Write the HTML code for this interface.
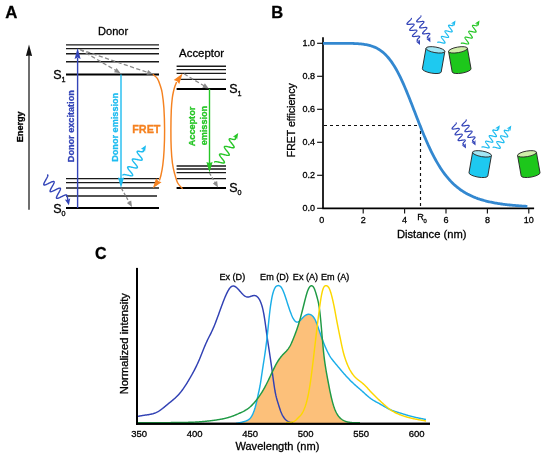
<!DOCTYPE html>
<html><head><meta charset="utf-8"><title>FRET</title>
<style>
html,body{margin:0;padding:0;background:#fff;}
svg{display:block;font-family:"Liberation Sans",Arial,Helvetica,sans-serif;}
text{stroke:#000;stroke-width:0.3px;}
</style></head>
<body>
<svg width="550" height="458" viewBox="0 0 550 458">
<rect width="550" height="458" fill="#fff"/>
<text x="5.2" y="18.3" font-size="16.8" font-weight="bold" stroke="#000" stroke-width="0.35">A</text>
<line x1="29" y1="209.8" x2="29" y2="55" stroke="#4a4a4a" stroke-width="1.6"/>
<path d="M29,44.6 L32.1,56.1 L29,55.6 L25.9,56.1 Z" fill="#111"/>
<text transform="translate(23.3,126.8) rotate(-90)" text-anchor="middle" font-size="9.4" font-weight="bold" textLength="31" lengthAdjust="spacingAndGlyphs">Energy</text>
<text x="98" y="35.1" font-size="11.2" textLength="30.2" lengthAdjust="spacingAndGlyphs">Donor</text>
<text x="179.1" y="56.5" font-size="11.2" textLength="45" lengthAdjust="spacingAndGlyphs">Acceptor</text>
<line x1="66" y1="44.9" x2="159" y2="44.9" stroke="#1a1a1a" stroke-width="1.4"/>
<line x1="66" y1="48.6" x2="159" y2="48.6" stroke="#1a1a1a" stroke-width="1.4"/>
<line x1="66" y1="53.7" x2="159" y2="53.7" stroke="#1a1a1a" stroke-width="1.4"/>
<line x1="66" y1="61.7" x2="159" y2="61.7" stroke="#1a1a1a" stroke-width="1.4"/>
<line x1="66" y1="74.4" x2="159" y2="74.4" stroke="#000" stroke-width="2"/>
<line x1="66" y1="178.6" x2="159" y2="178.6" stroke="#1a1a1a" stroke-width="1.4"/>
<line x1="66" y1="182.6" x2="159" y2="182.6" stroke="#1a1a1a" stroke-width="1.4"/>
<line x1="66" y1="188" x2="159" y2="188" stroke="#1a1a1a" stroke-width="1.4"/>
<line x1="66" y1="196" x2="157" y2="196" stroke="#1a1a1a" stroke-width="1.4"/>
<line x1="66" y1="208" x2="159" y2="208" stroke="#000" stroke-width="2"/>
<line x1="176.6" y1="66.3" x2="226" y2="66.3" stroke="#1a1a1a" stroke-width="1.4"/>
<line x1="176.6" y1="69.6" x2="226" y2="69.6" stroke="#1a1a1a" stroke-width="1.4"/>
<line x1="176.6" y1="73.4" x2="226" y2="73.4" stroke="#1a1a1a" stroke-width="1.4"/>
<line x1="180.4" y1="79.4" x2="226" y2="79.4" stroke="#1a1a1a" stroke-width="1.4"/>
<line x1="176.6" y1="88.9" x2="226" y2="88.9" stroke="#000" stroke-width="2"/>
<line x1="176.6" y1="166" x2="226" y2="166" stroke="#1a1a1a" stroke-width="1.4"/>
<line x1="176.6" y1="169" x2="226" y2="169" stroke="#1a1a1a" stroke-width="1.4"/>
<line x1="176.6" y1="172.6" x2="226" y2="172.6" stroke="#1a1a1a" stroke-width="1.4"/>
<line x1="176.6" y1="178.6" x2="226" y2="178.6" stroke="#1a1a1a" stroke-width="1.4"/>
<line x1="176.6" y1="188" x2="226" y2="188" stroke="#000" stroke-width="2"/>
<text x="53.3" y="78.5" font-size="12.5">S</text><text x="61.599999999999994" y="81.9" font-size="7.2">1</text>
<text x="53.3" y="212.9" font-size="12.5">S</text><text x="61.599999999999994" y="216.3" font-size="7.2">0</text>
<text x="229.3" y="92.7" font-size="12.5">S</text><text x="237.60000000000002" y="96.10000000000001" font-size="7.2">1</text>
<text x="229.3" y="191.7" font-size="12.5">S</text><text x="237.60000000000002" y="195.1" font-size="7.2">0</text>
<line x1="80" y1="49.5" x2="116.18" y2="70.67" stroke="#8a8a8a" stroke-width="1.3" stroke-dasharray="4.2,2.4"/><path d="M120.5,73.2 L114.06,72.33 L115.32,70.17 L116.58,68.01 Z" fill="#8a8a8a"/>
<line x1="80" y1="49.5" x2="148.26" y2="72.6" stroke="#8a8a8a" stroke-width="1.3" stroke-dasharray="4.2,2.4"/><path d="M153,74.2 L146.52,74.65 L147.32,72.28 L148.12,69.91 Z" fill="#8a8a8a"/>
<line x1="121.5" y1="188.5" x2="129.53" y2="202.65" stroke="#8a8a8a" stroke-width="1.3" stroke-dasharray="3,2"/><path d="M132,207 L126.86,203.02 L129.04,201.78 L131.21,200.55 Z" fill="#8a8a8a"/>
<line x1="184" y1="73.8" x2="204.41" y2="86.03" stroke="#8a8a8a" stroke-width="1.3" stroke-dasharray="4.2,2.4"/><path d="M208.7,88.6 L202.27,87.66 L203.55,85.52 L204.84,83.37 Z" fill="#8a8a8a"/>
<line x1="209.5" y1="173" x2="215.47" y2="183.19" stroke="#8a8a8a" stroke-width="1.3" stroke-dasharray="3,2"/><path d="M218,187.5 L212.81,183.59 L214.97,182.32 L217.12,181.06 Z" fill="#8a8a8a"/>
<line x1="77.6" y1="208" x2="77.6" y2="58" stroke="#3344b8" stroke-width="1.4"/><path d="M77.6,48 L80.6,59 L77.6,57.5 L74.6,59 Z" fill="#3344b8"/>
<text transform="translate(74.2,126.2) rotate(-90)" text-anchor="middle" font-size="9.2" textLength="72" lengthAdjust="spacingAndGlyphs" font-weight="bold" style="fill:#3344b8;stroke:#3344b8">Donor excitation</text>
<line x1="121" y1="74.4" x2="121" y2="178.5" stroke="#1ebcf0" stroke-width="1.4"/><path d="M121,188 L118,177.5 L121,178.3 L124,177.5 Z" fill="#1ebcf0"/>
<text transform="translate(118.2,127.3) rotate(-90)" text-anchor="middle" font-size="9.1" textLength="69" lengthAdjust="spacingAndGlyphs" font-weight="bold" style="fill:#1ebcf0;stroke:#1ebcf0">Donor emission</text>
<line x1="209.5" y1="88.9" x2="209.5" y2="163.1" stroke="#26c626" stroke-width="1.4"/><path d="M209.5,172.6 L206.4,162.1 L209.5,162.9 L212.6,162.1 Z" fill="#26c626"/>
<text transform="translate(194.8,126.5) rotate(-90)" text-anchor="middle" font-size="9.2" textLength="39.5" lengthAdjust="spacingAndGlyphs" font-weight="bold" style="fill:#26c626;stroke:#26c626">Acceptor</text>
<text transform="translate(206.6,125.6) rotate(-90)" text-anchor="middle" font-size="9.2" textLength="39.5" lengthAdjust="spacingAndGlyphs" font-weight="bold" style="fill:#26c626;stroke:#26c626">emission</text>
<text x="132.2" y="133.3" font-size="11.3" font-weight="bold" textLength="28.3" lengthAdjust="spacingAndGlyphs" style="fill:#f58220;stroke:#f58220">FRET</text>
<path d="M152.8,74.3 C153.55,74.98 156.05,76.5 157.3,78.4 C158.55,80.3 159.48,83.27 160.3,85.7 C161.12,88.13 161.6,89.28 162.2,93 C162.8,96.72 163.5,101.83 163.9,108 C164.3,114.17 164.57,123 164.6,130 C164.63,137 164.4,144.17 164.1,150 C163.8,155.83 163.32,160.83 162.8,165 C162.28,169.17 161.57,172.42 161,175 C160.43,177.58 159.67,179.58 159.4,180.5" fill="none" stroke="#f58220" stroke-width="1.45"/>
<path d="M152.8,188.3 L156.1,178.27 L158.21,181.11 L161.53,182.36 Z" fill="#f58220"/>
<path d="M182.6,188.7 C181.78,187.75 179.05,185.58 177.7,183 C176.35,180.42 175.38,176.53 174.5,173.2 C173.62,169.87 172.95,167.2 172.4,163 C171.85,158.8 171.45,153.5 171.2,148 C170.95,142.5 170.88,136.33 170.9,130 C170.92,123.67 171.07,115.33 171.3,110 C171.53,104.67 171.92,101.17 172.3,98 C172.68,94.83 173.15,93 173.6,91 C174.05,89 174.5,87.5 175,86 C175.5,84.5 176.33,82.67 176.6,82" fill="none" stroke="#f58220" stroke-width="1.45"/>
<path d="M182.6,73.5 L179.24,84.01 L177.06,81.22 L173.72,80.05 Z" fill="#f58220"/>
<path d="M47.7,174.9 L47.82,175.11 L47.85,175.4 L47.79,175.76 L47.67,176.2 L47.47,176.7 L47.21,177.26 L46.9,177.87 L46.56,178.52 L46.18,179.19 L45.8,179.87 L45.41,180.56 L45.03,181.23 L44.69,181.87 L44.38,182.48 L44.12,183.04 L43.92,183.54 L43.8,183.98 L43.74,184.35 L43.77,184.64 L43.89,184.84 L44.09,184.97 L44.38,185.02 L44.75,184.99 L45.19,184.88 L45.7,184.72 L46.28,184.49 L46.9,184.22 L47.57,183.91 L48.26,183.57 L48.96,183.22 L49.67,182.87 L50.36,182.54 L51.02,182.23 L51.65,181.95 L52.22,181.73 L52.73,181.56 L53.18,181.46 L53.55,181.43 L53.83,181.47 L54.03,181.6 L54.15,181.81 L54.18,182.1 L54.13,182.46 L54,182.9 L53.8,183.4 L53.55,183.96 L53.24,184.57 L52.89,185.22 L52.52,185.89 L52.13,186.57 L51.74,187.26 L51.37,187.93 L51.02,188.57 L50.71,189.18 L50.45,189.74 L50.26,190.24 L50.13,190.68 L50.08,191.05 L50.11,191.34 L50.22,191.54 L50.42,191.67 L50.71,191.72 L51.08,191.69 L51.52,191.58 L52.04,191.42 L52.61,191.19 L53.24,190.92 L53.9,190.61 L54.59,190.27 L55.3,189.92 L56,189.57 L56.69,189.24 L57.35,188.93 L57.98,188.65 L58.55,188.43 L59.07,188.26 L59.51,188.16 L59.88,188.13 L60.17,188.17 L60.37,188.3 L60.48,188.51 L60.51,188.8 L60.46,189.16 L60.33,189.6 L60.14,190.1 L59.88,190.66 L59.57,191.27 L59.22,191.92 L58.85,192.59 L58.46,193.27 L58.07,193.96 L57.7,194.63 L57.35,195.27 L57.04,195.88 L56.79,196.44 L56.59,196.94 L56.46,197.38 L56.41,197.75 L56.44,198.04 L56.56,198.24 L56.76,198.37 L57.04,198.42 L57.41,198.39 L57.86,198.28 L58.37,198.12 L58.94,197.89 L59.57,197.62 L60.23,197.31 L60.92,196.97 L61.63,196.62 L62.33,196.27 L63.02,195.94 L63.69,195.63 L64.31,195.35 L64.89,195.13 L65.4,194.96 L65.84,194.86 L66.21,194.83 L66.5,194.87 L66.7,195 Q67.78,198.03 67.74,199.82" fill="none" stroke="#3344b8" stroke-width="1.4" stroke-linejoin="round" stroke-linecap="round"/><path d="M68.9,205.2 L64.84,199.43 L67.78,200.02 L70.22,198.27 Z" fill="#3344b8"/>
<path d="M122.92,174.91 L123.12,174.72 L123.44,174.6 L123.88,174.55 L124.42,174.57 L125.05,174.64 L125.76,174.76 L126.52,174.91 L127.32,175.09 L128.13,175.27 L128.93,175.44 L129.7,175.6 L130.41,175.72 L131.06,175.8 L131.61,175.83 L132.06,175.79 L132.4,175.68 L132.62,175.5 L132.71,175.25 L132.69,174.92 L132.54,174.52 L132.29,174.06 L131.95,173.54 L131.53,172.97 L131.05,172.37 L130.53,171.74 L130,171.1 L129.47,170.47 L128.97,169.86 L128.52,169.27 L128.15,168.73 L127.85,168.24 L127.66,167.81 L127.59,167.46 L127.63,167.17 L127.79,166.96 L128.08,166.82 L128.48,166.75 L129,166.75 L129.6,166.81 L130.29,166.92 L131.04,167.06 L131.83,167.23 L132.64,167.41 L133.45,167.59 L134.23,167.75 L134.96,167.88 L135.63,167.98 L136.21,168.02 L136.69,168 L137.06,167.91 L137.31,167.75 L137.44,167.52 L137.45,167.21 L137.34,166.83 L137.12,166.39 L136.8,165.88 L136.4,165.33 L135.94,164.73 L135.43,164.11 L134.89,163.48 L134.36,162.84 L133.85,162.22 L133.39,161.63 L132.99,161.07 L132.67,160.57 L132.45,160.12 L132.34,159.74 L132.35,159.44 L132.48,159.2 L132.73,159.04 L133.1,158.96 L133.58,158.94 L134.16,158.98 L134.83,159.07 L135.56,159.21 L136.34,159.37 L137.15,159.55 L137.96,159.73 L138.75,159.9 L139.5,160.04 L140.19,160.15 L140.79,160.2 L141.31,160.2 L141.71,160.14 L142,160 L142.16,159.79 L142.2,159.5 L142.13,159.14 L141.94,158.71 L141.64,158.23 L141.27,157.68 L140.82,157.1 L140.32,156.48 L139.79,155.85 L139.26,155.22 L138.74,154.59 L138.26,153.99 L137.84,153.42 L137.5,152.9 L137.25,152.44 L137.1,152.04 L137.08,151.71 L137.17,151.45 L137.39,151.27 L137.73,151.17 L138.26,151.18 L138.99,151.31 L139.74,151.45 L140.47,151.59 L141.15,151.69 L141.77,151.75 L142.3,151.77 L142.73,151.72 L143.06,151.6 L143.28,151.43 L143.4,151.19 L143.43,150.89 L143.4,150.56 L143.31,150.2 L143.2,149.81" fill="none" stroke="#1ebcf0" stroke-width="1.4" stroke-linejoin="round" stroke-linecap="round"/><path d="M146,145.2 L145.02,151.63 L143.51,149.3 L140.75,149.03 Z" fill="#1ebcf0"/>
<path d="M214.71,161.91 L214.91,161.72 L215.23,161.61 L215.67,161.58 L216.2,161.61 L216.83,161.7 L217.54,161.83 L218.29,162 L219.09,162.2 L219.89,162.4 L220.69,162.59 L221.45,162.76 L222.16,162.91 L222.8,163 L223.36,163.04 L223.81,163.02 L224.15,162.92 L224.36,162.75 L224.46,162.5 L224.44,162.17 L224.3,161.77 L224.06,161.3 L223.73,160.78 L223.32,160.21 L222.85,159.6 L222.34,158.96 L221.82,158.32 L221.31,157.68 L220.82,157.06 L220.38,156.46 L220.01,155.92 L219.73,155.43 L219.54,155 L219.47,154.64 L219.52,154.36 L219.69,154.15 L219.97,154.02 L220.38,153.97 L220.89,153.98 L221.49,154.05 L222.18,154.17 L222.92,154.34 L223.71,154.52 L224.51,154.72 L225.31,154.92 L226.09,155.1 L226.81,155.25 L227.48,155.36 L228.06,155.42 L228.54,155.41 L228.91,155.34 L229.16,155.19 L229.29,154.96 L229.31,154.65 L229.2,154.28 L228.99,153.83 L228.68,153.32 L228.29,152.76 L227.84,152.16 L227.34,151.53 L226.82,150.89 L226.3,150.24 L225.8,149.61 L225.35,149.01 L224.96,148.45 L224.65,147.94 L224.43,147.5 L224.33,147.12 L224.34,146.81 L224.47,146.58 L224.73,146.43 L225.1,146.36 L225.58,146.35 L226.16,146.41 L226.82,146.52 L227.55,146.67 L228.33,146.85 L229.13,147.05 L229.93,147.25 L230.71,147.43 L231.46,147.6 L232.14,147.72 L232.75,147.79 L233.26,147.8 L233.66,147.75 L233.95,147.62 L234.12,147.41 L234.16,147.13 L234.09,146.77 L233.91,146.35 L233.62,145.85 L233.26,145.31 L232.82,144.72 L232.33,144.09 L231.81,143.45 L231.29,142.81 L230.79,142.17 L230.32,141.56 L229.91,140.99 L229.57,140.47 L229.33,140 L229.19,139.6 L229.17,139.27 L229.27,139.02 L229.49,138.85 L229.83,138.76 L230.36,138.78 L231.09,138.93 L231.83,139.09 L232.55,139.24 L233.23,139.36 L233.85,139.44 L234.38,139.47 L234.81,139.43 L235.14,139.33 L235.36,139.15 L235.48,138.92 L235.52,138.63 L235.49,138.3 L235.41,137.94 L235.3,137.56" fill="none" stroke="#26c626" stroke-width="1.4" stroke-linejoin="round" stroke-linecap="round"/><path d="M238.2,133 L237.09,139.4 L235.62,137.05 L232.87,136.72 Z" fill="#26c626"/>
<text x="271.2" y="18.1" font-size="16.5" font-weight="bold" stroke="#000" stroke-width="0.3">B</text>
<line x1="323.0" y1="37.2" x2="323.0" y2="209.10000000000002" stroke="#000" stroke-width="1.7"/>
<line x1="322.2" y1="208.3" x2="534.1" y2="208.3" stroke="#000" stroke-width="1.7"/>
<line x1="317.1" y1="208.3" x2="323.0" y2="208.3" stroke="#111" stroke-width="1.15"/>
<text x="315" y="211.25" font-size="9" text-anchor="end">0.0</text>
<line x1="317.1" y1="175.3" x2="323.0" y2="175.3" stroke="#111" stroke-width="1.15"/>
<text x="315" y="178.25" font-size="9" text-anchor="end">0.2</text>
<line x1="317.1" y1="142.3" x2="323.0" y2="142.3" stroke="#111" stroke-width="1.15"/>
<text x="315" y="145.25" font-size="9" text-anchor="end">0.4</text>
<line x1="317.1" y1="109.3" x2="323.0" y2="109.3" stroke="#111" stroke-width="1.15"/>
<text x="315" y="112.25" font-size="9" text-anchor="end">0.6</text>
<line x1="317.1" y1="76.3" x2="323.0" y2="76.3" stroke="#111" stroke-width="1.15"/>
<text x="315" y="79.25" font-size="9" text-anchor="end">0.8</text>
<line x1="317.1" y1="43.3" x2="323.0" y2="43.3" stroke="#111" stroke-width="1.15"/>
<text x="315" y="46.25" font-size="9" text-anchor="end">1.0</text>
<text x="321.8" y="223.2" font-size="9" text-anchor="middle">0</text>
<line x1="363.2" y1="208.3" x2="363.2" y2="213.5" stroke="#111" stroke-width="1.15"/>
<text x="363.2" y="223.2" font-size="9" text-anchor="middle">2</text>
<line x1="404.6" y1="208.3" x2="404.6" y2="213.5" stroke="#111" stroke-width="1.15"/>
<text x="404.6" y="223.2" font-size="9" text-anchor="middle">4</text>
<line x1="446" y1="208.3" x2="446" y2="213.5" stroke="#111" stroke-width="1.15"/>
<text x="446" y="223.2" font-size="9" text-anchor="middle">6</text>
<line x1="487.4" y1="208.3" x2="487.4" y2="213.5" stroke="#111" stroke-width="1.15"/>
<text x="487.4" y="223.2" font-size="9" text-anchor="middle">8</text>
<line x1="528.8" y1="208.3" x2="528.8" y2="213.5" stroke="#111" stroke-width="1.15"/>
<text x="528.8" y="223.2" font-size="9" text-anchor="middle">10</text>
<text x="417.3" y="219.8" font-size="9.2">R</text><text x="423.5" y="223" font-size="5.8">0</text>
<text x="396.9" y="238.2" font-size="11.2" textLength="69.6" lengthAdjust="spacingAndGlyphs">Distance (nm)</text>
<text transform="translate(295.3,120.3) rotate(-90)" text-anchor="middle" font-size="10.5" textLength="74" lengthAdjust="spacingAndGlyphs">FRET efficiency</text>
<path d="M324.0,125.5 H420.5 V208.3" fill="none" stroke="#111" stroke-width="1.15" stroke-dasharray="3,3"/>
<polyline points="323.0,43.3 323.87,43.3 324.9,43.3 325.93,43.3 326.96,43.3 328,43.3 329.03,43.3 330.06,43.3 331.1,43.3 332.13,43.3 333.16,43.3 334.2,43.3 335.23,43.3 336.26,43.3 337.29,43.3 338.33,43.3 339.36,43.31 340.39,43.31 341.43,43.31 342.46,43.31 343.49,43.32 344.52,43.33 345.56,43.33 346.59,43.34 347.62,43.35 348.66,43.37 349.69,43.39 350.72,43.41 351.75,43.43 352.79,43.46 353.82,43.5 354.85,43.54 355.89,43.59 356.92,43.64 357.95,43.71 358.99,43.78 360.02,43.87 361.05,43.97 362.08,44.08 363.12,44.2 364.15,44.35 365.18,44.51 366.22,44.69 367.25,44.89 368.28,45.12 369.31,45.37 370.35,45.66 371.38,45.97 372.41,46.31 373.45,46.69 374.48,47.11 375.51,47.57 376.54,48.07 377.58,48.62 378.61,49.22 379.64,49.87 380.68,50.57 381.71,51.33 382.74,52.15 383.78,53.04 384.81,53.99 385.84,55 386.87,56.09 387.91,57.25 388.94,58.49 389.97,59.8 391.01,61.19 392.04,62.65 393.07,64.2 394.1,65.83 395.14,67.54 396.17,69.32 397.2,71.19 398.24,73.13 399.27,75.15 400.3,77.24 401.33,79.41 402.37,81.64 403.4,83.93 404.43,86.29 405.47,88.7 406.5,91.16 407.53,93.67 408.57,96.22 409.6,98.8 410.63,101.42 411.66,104.06 412.7,106.71 413.73,109.38 414.76,112.05 415.8,114.72 416.83,117.39 417.86,120.05 418.89,122.68 419.93,125.3 420.96,127.89 421.99,130.45 423.03,132.98 424.06,135.47 425.09,137.91 426.12,140.31 427.16,142.66 428.19,144.96 429.22,147.2 430.26,149.4 431.29,151.53 432.32,153.61 433.36,155.63 434.39,157.59 435.42,159.5 436.45,161.34 437.49,163.13 438.52,164.86 439.55,166.53 440.59,168.14 441.62,169.7 442.65,171.2 443.68,172.65 444.72,174.04 445.75,175.39 446.78,176.68 447.82,177.92 448.85,179.12 449.88,180.27 450.91,181.37 451.95,182.43 452.98,183.45 454.01,184.43 455.05,185.36 456.08,186.26 457.11,187.13 458.15,187.95 459.18,188.75 460.21,189.51 461.24,190.24 462.28,190.94 463.31,191.61 464.34,192.25 465.38,192.87 466.41,193.46 467.44,194.03 468.47,194.57 469.51,195.09 470.54,195.59 471.57,196.07 472.61,196.53 473.64,196.97 474.67,197.39 475.71,197.8 476.74,198.18 477.77,198.56 478.8,198.91 479.84,199.25 480.87,199.58 481.9,199.9 482.94,200.2 483.97,200.49 485,200.77 486.03,201.04 487.07,201.29 488.1,201.54 489.13,201.78 490.17,202 491.2,202.22 492.23,202.43 493.26,202.63 494.3,202.83 495.33,203.01 496.36,203.19 497.4,203.37 498.43,203.53 499.46,203.69 500.5,203.84 501.53,203.99 502.56,204.13 503.59,204.27 504.63,204.4 505.66,204.53 506.69,204.65 507.73,204.77 508.76,204.88 509.79,204.99 510.82,205.09 511.86,205.2 512.89,205.29 513.92,205.39 514.96,205.48 515.99,205.57 517.02,205.65 518.05,205.73 519.09,205.81 520.12,205.89 521.15,205.96 522.19,206.03 523.22,206.1 524.25,206.16 525.29,206.23 526.32,206.29 527.35,206.35" fill="none" stroke="#3388d0" stroke-width="2.8" stroke-linecap="butt"/>
<g transform="translate(433.6,60.1) rotate(10)"><path d="M-9.55,-10.4 L-9.55,10.4 A9.55,2.8 0 0 0 9.55,10.4 L9.55,-10.4 Z" fill="#1ec9f0" stroke="#2a2a2a" stroke-width="0.9"/><ellipse cx="0" cy="-10.4" rx="9.55" ry="2.8" fill="#a2e6f4" stroke="#2a2a2a" stroke-width="0.9"/></g>
<g transform="translate(459.8,60.1) rotate(-10)"><path d="M-9.55,-10.4 L-9.55,10.4 A9.55,2.8 0 0 0 9.55,10.4 L9.55,-10.4 Z" fill="#1dc71b" stroke="#2a2a2a" stroke-width="0.9"/><ellipse cx="0" cy="-10.4" rx="9.55" ry="2.8" fill="#d0eeaa" stroke="#2a2a2a" stroke-width="0.9"/></g>
<g transform="translate(480.2,164.1) rotate(10)"><path d="M-9.55,-10.4 L-9.55,10.4 A9.55,2.8 0 0 0 9.55,10.4 L9.55,-10.4 Z" fill="#1ec9f0" stroke="#2a2a2a" stroke-width="0.9"/><ellipse cx="0" cy="-10.4" rx="9.55" ry="2.8" fill="#a2e6f4" stroke="#2a2a2a" stroke-width="0.9"/></g>
<g transform="translate(528.8,164.1) rotate(-10)"><path d="M-9.55,-10.4 L-9.55,10.4 A9.55,2.8 0 0 0 9.55,10.4 L9.55,-10.4 Z" fill="#1dc71b" stroke="#2a2a2a" stroke-width="0.9"/><ellipse cx="0" cy="-10.4" rx="9.55" ry="2.8" fill="#d0eeaa" stroke="#2a2a2a" stroke-width="0.9"/></g>
<path d="M411.37,18.36 L411.4,18.56 L411.33,18.8 L411.18,19.08 L410.94,19.4 L410.63,19.76 L410.26,20.14 L409.85,20.54 L409.4,20.96 L408.95,21.38 L408.51,21.8 L408.09,22.2 L407.71,22.59 L407.39,22.95 L407.14,23.27 L406.97,23.56 L406.9,23.81 L406.92,24.02 L407.03,24.18 L407.24,24.3 L407.55,24.37 L407.93,24.41 L408.4,24.41 L408.92,24.39 L409.49,24.34 L410.09,24.28 L410.7,24.21 L411.31,24.15 L411.9,24.1 L412.44,24.06 L412.93,24.05 L413.35,24.07 L413.7,24.13 L413.95,24.23 L414.1,24.37 L414.16,24.56 L414.13,24.79 L414,25.06 L413.78,25.37 L413.49,25.72 L413.14,26.09 L412.73,26.49 L412.3,26.9 L411.85,27.32 L411.4,27.74 L410.97,28.15 L410.58,28.54 L410.24,28.91 L409.97,29.25 L409.78,29.55 L409.68,29.81 L409.67,30.03 L409.75,30.2 L409.94,30.33 L410.22,30.42 L410.58,30.46 L411.02,30.48 L411.53,30.46 L412.09,30.42 L412.68,30.36 L413.29,30.29 L413.91,30.23 L414.5,30.17 L415.06,30.13 L415.56,30.11 L416.01,30.13 L416.37,30.17 L416.65,30.26 L416.83,30.39 L416.92,30.56 L416.91,30.78 L416.81,31.04 L416.62,31.34 L416.35,31.68 L416.01,32.05 L415.62,32.44 L415.19,32.85 L414.74,33.27 L414.29,33.69 L413.85,34.1 L413.45,34.5 L413.1,34.87 L412.81,35.22 L412.59,35.53 L412.46,35.8 L412.42,36.03 L412.48,36.22 L412.64,36.36 L412.89,36.46 L413.23,36.52 L413.65,36.54 L414.14,36.53 L414.69,36.49 L415.28,36.44 L415.88,36.38 L416.5,36.31 L417.1,36.25 L417.67,36.2 L418.19,36.18 L418.65,36.18 L419.04,36.22 L419.35,36.29 L419.56,36.41 L419.67,36.57 L419.69,36.78 L419.61,37.03 L419.38,37.35 L418.99,37.74 L418.59,38.13 L418.2,38.52 L417.85,38.9 L417.55,39.25 L417.32,39.57 L417.17,39.85 L417.1,40.1 L417.11,40.3 L417.21,40.47 L417.37,40.61 L417.59,40.72 L417.85,40.82 L418.13,40.91" fill="none" stroke="#3344b8" stroke-width="1.2" stroke-linejoin="round" stroke-linecap="round"/><path d="M420,45 L415.88,41.38 L418.42,41.54 L419.97,39.52 Z" fill="#3344b8"/>
<path d="M420.96,15.76 L420.99,15.96 L420.94,16.2 L420.79,16.49 L420.56,16.82 L420.26,17.19 L419.91,17.58 L419.5,18 L419.07,18.43 L418.63,18.86 L418.2,19.29 L417.8,19.71 L417.43,20.1 L417.12,20.47 L416.88,20.81 L416.72,21.1 L416.65,21.35 L416.68,21.56 L416.8,21.72 L417.01,21.83 L417.32,21.9 L417.71,21.92 L418.17,21.91 L418.7,21.87 L419.26,21.81 L419.86,21.73 L420.47,21.65 L421.08,21.57 L421.66,21.5 L422.21,21.45 L422.7,21.42 L423.12,21.43 L423.46,21.48 L423.72,21.57 L423.88,21.71 L423.94,21.89 L423.91,22.13 L423.79,22.4 L423.59,22.72 L423.31,23.08 L422.96,23.46 L422.57,23.87 L422.15,24.3 L421.71,24.73 L421.28,25.16 L420.86,25.59 L420.48,25.99 L420.15,26.37 L419.89,26.71 L419.71,27.02 L419.62,27.28 L419.61,27.5 L419.71,27.67 L419.89,27.8 L420.17,27.88 L420.54,27.91 L420.98,27.91 L421.49,27.88 L422.05,27.82 L422.64,27.75 L423.25,27.67 L423.86,27.59 L424.45,27.51 L425.01,27.45 L425.51,27.42 L425.96,27.42 L426.32,27.46 L426.6,27.54 L426.79,27.66 L426.89,27.83 L426.88,28.05 L426.79,28.32 L426.61,28.62 L426.34,28.97 L426.02,29.35 L425.64,29.75 L425.22,30.17 L424.79,30.6 L424.35,31.04 L423.93,31.46 L423.54,31.87 L423.19,32.26 L422.91,32.61 L422.71,32.93 L422.58,33.21 L422.55,33.44 L422.62,33.63 L422.78,33.76 L423.04,33.86 L423.38,33.9 L423.8,33.91 L424.29,33.89 L424.84,33.84 L425.42,33.77 L426.03,33.69 L426.64,33.61 L427.23,33.53 L427.8,33.47 L428.33,33.43 L428.79,33.42 L429.18,33.44 L429.48,33.51 L429.7,33.62 L429.82,33.78 L429.84,33.98 L429.77,34.23 L429.55,34.56 L429.17,34.96 L428.79,35.37 L428.41,35.77 L428.07,36.16 L427.78,36.52 L427.56,36.85 L427.41,37.13 L427.35,37.38 L427.38,37.59 L427.48,37.75 L427.64,37.89 L427.87,38 L428.13,38.08 L428.41,38.16" fill="none" stroke="#3344b8" stroke-width="1.2" stroke-linejoin="round" stroke-linecap="round"/><path d="M430.4,42.2 L426.17,38.71 L428.72,38.79 L430.21,36.72 Z" fill="#3344b8"/>
<path d="M437.78,42.3 L437.93,42.16 L438.17,42.08 L438.5,42.06 L438.9,42.08 L439.36,42.15 L439.89,42.25 L440.45,42.38 L441.04,42.52 L441.64,42.68 L442.23,42.82 L442.8,42.95 L443.33,43.06 L443.8,43.13 L444.21,43.16 L444.55,43.15 L444.8,43.07 L444.96,42.95 L445.04,42.76 L445.02,42.52 L444.92,42.22 L444.74,41.88 L444.49,41.49 L444.18,41.06 L443.83,40.61 L443.46,40.13 L443.07,39.66 L442.69,39.18 L442.32,38.72 L442,38.28 L441.72,37.87 L441.51,37.5 L441.38,37.19 L441.32,36.92 L441.36,36.71 L441.48,36.56 L441.7,36.46 L442,36.42 L442.37,36.43 L442.82,36.49 L443.33,36.58 L443.89,36.71 L444.47,36.85 L445.07,37 L445.66,37.14 L446.24,37.28 L446.78,37.4 L447.27,37.48 L447.7,37.52 L448.06,37.52 L448.34,37.46 L448.52,37.35 L448.62,37.18 L448.63,36.96 L448.55,36.68 L448.39,36.34 L448.16,35.97 L447.87,35.55 L447.54,35.1 L447.17,34.63 L446.78,34.16 L446.39,33.68 L446.02,33.21 L445.69,32.76 L445.4,32.35 L445.17,31.97 L445.01,31.64 L444.93,31.35 L444.94,31.13 L445.04,30.96 L445.22,30.85 L445.5,30.79 L445.86,30.79 L446.29,30.83 L446.78,30.92 L447.32,31.03 L447.9,31.17 L448.49,31.32 L449.09,31.47 L449.67,31.61 L450.23,31.73 L450.74,31.82 L451.19,31.88 L451.56,31.89 L451.86,31.85 L452.08,31.75 L452.2,31.6 L452.24,31.39 L452.18,31.13 L452.05,30.81 L451.84,30.44 L451.56,30.04 L451.24,29.6 L450.87,29.13 L450.49,28.66 L450.1,28.18 L449.73,27.71 L449.38,27.25 L449.07,26.83 L448.82,26.44 L448.64,26.09 L448.54,25.79 L448.52,25.55 L448.6,25.37 L448.76,25.24 L449.01,25.17 L449.41,25.19 L449.95,25.3 L450.5,25.42 L451.04,25.53 L451.54,25.63 L452,25.69 L452.4,25.71 L452.72,25.68 L452.96,25.6 L453.12,25.48 L453.22,25.31 L453.24,25.09 L453.22,24.84 L453.16,24.57 L453.08,24.29" fill="none" stroke="#1ebcf0" stroke-width="1.2" stroke-linejoin="round" stroke-linecap="round"/><path d="M455.5,20.5 L454.71,25.93 L453.45,23.7 L450.91,23.5 Z" fill="#1ebcf0"/>
<path d="M461.29,43.29 L461.45,43.14 L461.69,43.06 L462.02,43.02 L462.43,43.04 L462.9,43.1 L463.43,43.19 L463.99,43.31 L464.59,43.44 L465.19,43.58 L465.79,43.72 L466.36,43.84 L466.9,43.94 L467.38,44 L467.79,44.02 L468.13,43.99 L468.39,43.91 L468.56,43.78 L468.63,43.58 L468.62,43.33 L468.52,43.03 L468.35,42.68 L468.1,42.28 L467.8,41.85 L467.45,41.39 L467.08,40.91 L466.69,40.43 L466.31,39.94 L465.95,39.47 L465.63,39.03 L465.36,38.62 L465.15,38.24 L465.02,37.92 L464.97,37.64 L465.01,37.43 L465.14,37.27 L465.36,37.16 L465.66,37.11 L466.04,37.12 L466.5,37.16 L467.01,37.24 L467.57,37.36 L468.16,37.49 L468.76,37.63 L469.36,37.77 L469.94,37.89 L470.49,38 L470.99,38.07 L471.42,38.1 L471.79,38.09 L472.07,38.03 L472.26,37.91 L472.36,37.73 L472.38,37.5 L472.3,37.21 L472.15,36.87 L471.92,36.49 L471.63,36.06 L471.3,35.61 L470.93,35.14 L470.55,34.65 L470.16,34.17 L469.8,33.69 L469.46,33.24 L469.17,32.82 L468.95,32.43 L468.79,32.09 L468.72,31.8 L468.73,31.57 L468.83,31.39 L469.03,31.27 L469.31,31.21 L469.67,31.2 L470.1,31.23 L470.6,31.3 L471.15,31.41 L471.73,31.54 L472.33,31.67 L472.93,31.81 L473.52,31.95 L474.08,32.06 L474.59,32.14 L475.05,32.19 L475.43,32.19 L475.74,32.14 L475.96,32.04 L476.08,31.88 L476.12,31.66 L476.07,31.38 L475.94,31.06 L475.73,30.69 L475.46,30.27 L475.14,29.83 L474.78,29.36 L474.4,28.88 L474.01,28.39 L473.64,27.91 L473.29,27.45 L472.99,27.02 L472.75,26.62 L472.57,26.27 L472.47,25.97 L472.46,25.72 L472.54,25.52 L472.7,25.39 L472.96,25.31 L473.36,25.32 L473.9,25.42 L474.46,25.53 L475,25.64 L475.52,25.72 L475.98,25.77 L476.38,25.78 L476.7,25.75 L476.95,25.66 L477.12,25.53 L477.22,25.35 L477.25,25.12 L477.23,24.87 L477.17,24.59 L477.09,24.3" fill="none" stroke="#26c626" stroke-width="1.2" stroke-linejoin="round" stroke-linecap="round"/><path d="M479.5,20.5 L478.73,25.93 L477.47,23.71 L474.93,23.52 Z" fill="#26c626"/>
<path d="M456.25,122.96 L456.29,123.15 L456.23,123.39 L456.09,123.68 L455.87,124.01 L455.57,124.38 L455.22,124.77 L454.83,125.19 L454.41,125.63 L453.97,126.06 L453.55,126.5 L453.15,126.92 L452.79,127.32 L452.49,127.69 L452.25,128.03 L452.1,128.32 L452.03,128.57 L452.06,128.77 L452.18,128.92 L452.4,129.02 L452.7,129.08 L453.09,129.09 L453.55,129.06 L454.07,129.01 L454.63,128.93 L455.23,128.83 L455.83,128.73 L456.44,128.63 L457.02,128.54 L457.56,128.47 L458.04,128.43 L458.46,128.43 L458.8,128.46 L459.06,128.55 L459.22,128.67 L459.29,128.85 L459.26,129.08 L459.14,129.36 L458.94,129.67 L458.67,130.03 L458.33,130.42 L457.95,130.83 L457.53,131.26 L457.1,131.7 L456.67,132.14 L456.26,132.57 L455.89,132.97 L455.57,133.35 L455.32,133.7 L455.14,134.01 L455.05,134.27 L455.05,134.48 L455.14,134.65 L455.33,134.76 L455.61,134.83 L455.97,134.85 L456.42,134.84 L456.92,134.79 L457.47,134.72 L458.06,134.62 L458.66,134.52 L459.27,134.42 L459.86,134.33 L460.41,134.25 L460.91,134.21 L461.35,134.19 L461.72,134.21 L462,134.28 L462.19,134.4 L462.28,134.56 L462.28,134.78 L462.19,135.04 L462.01,135.34 L461.76,135.69 L461.44,136.07 L461.06,136.48 L460.66,136.9 L460.23,137.34 L459.8,137.78 L459.38,138.21 L459,138.62 L458.66,139.01 L458.39,139.37 L458.19,139.69 L458.07,139.96 L458.04,140.19 L458.11,140.37 L458.27,140.5 L458.52,140.58 L458.87,140.62 L459.29,140.61 L459.77,140.57 L460.31,140.5 L460.89,140.42 L461.49,140.32 L462.1,140.21 L462.69,140.12 L463.26,140.04 L463.78,139.98 L464.24,139.95 L464.63,139.97 L464.93,140.02 L465.15,140.12 L465.27,140.27 L465.29,140.47 L465.23,140.72 L465.01,141.05 L464.64,141.46 L464.26,141.87 L463.89,142.27 L463.55,142.66 L463.27,143.02 L463.05,143.35 L462.92,143.64 L462.86,143.88 L462.88,144.08 L462.98,144.24 L463.15,144.37 L463.38,144.46 L463.64,144.54 L463.92,144.61" fill="none" stroke="#3344b8" stroke-width="1.2" stroke-linejoin="round" stroke-linecap="round"/><path d="M466,148.6 L461.69,145.21 L464.24,145.23 L465.68,143.13 Z" fill="#3344b8"/>
<path d="M466.25,119.85 L466.29,120.05 L466.23,120.29 L466.08,120.57 L465.86,120.9 L465.56,121.26 L465.2,121.65 L464.8,122.07 L464.37,122.49 L463.93,122.92 L463.5,123.35 L463.09,123.77 L462.73,124.16 L462.42,124.53 L462.18,124.86 L462.02,125.15 L461.95,125.4 L461.98,125.6 L462.1,125.75 L462.31,125.86 L462.61,125.91 L463,125.93 L463.46,125.91 L463.98,125.86 L464.55,125.79 L465.14,125.7 L465.75,125.61 L466.35,125.52 L466.93,125.44 L467.47,125.38 L467.96,125.35 L468.38,125.35 L468.72,125.39 L468.97,125.47 L469.13,125.6 L469.2,125.78 L469.17,126.01 L469.05,126.28 L468.84,126.6 L468.56,126.95 L468.22,127.33 L467.83,127.74 L467.4,128.17 L466.97,128.6 L466.53,129.03 L466.12,129.45 L465.74,129.85 L465.41,130.22 L465.15,130.57 L464.97,130.87 L464.87,131.13 L464.87,131.34 L464.96,131.51 L465.15,131.63 L465.43,131.7 L465.79,131.73 L466.23,131.72 L466.74,131.68 L467.29,131.61 L467.88,131.53 L468.49,131.43 L469.09,131.34 L469.68,131.26 L470.23,131.19 L470.74,131.15 L471.18,131.14 L471.54,131.17 L471.82,131.24 L472.01,131.36 L472.1,131.52 L472.1,131.74 L472,132 L471.82,132.3 L471.56,132.64 L471.23,133.02 L470.85,133.42 L470.44,133.84 L470,134.27 L469.57,134.7 L469.14,135.13 L468.75,135.53 L468.41,135.92 L468.13,136.27 L467.93,136.58 L467.8,136.86 L467.77,137.08 L467.84,137.26 L468,137.4 L468.25,137.48 L468.59,137.52 L469.01,137.52 L469.5,137.49 L470.04,137.43 L470.62,137.35 L471.22,137.26 L471.83,137.16 L472.43,137.08 L472.99,137 L473.51,136.96 L473.97,136.94 L474.36,136.95 L474.66,137.01 L474.88,137.12 L475,137.27 L475.02,137.47 L474.95,137.72 L474.72,138.04 L474.35,138.44 L473.96,138.85 L473.59,139.25 L473.25,139.63 L472.96,139.99 L472.74,140.31 L472.59,140.59 L472.53,140.84 L472.55,141.04 L472.65,141.2 L472.82,141.33 L473.04,141.43 L473.3,141.51 L473.58,141.58" fill="none" stroke="#3344b8" stroke-width="1.2" stroke-linejoin="round" stroke-linecap="round"/><path d="M475.6,145.6 L471.35,142.14 L473.89,142.2 L475.37,140.12 Z" fill="#3344b8"/>
<path d="M481.98,147 L482.13,146.86 L482.37,146.78 L482.7,146.76 L483.1,146.79 L483.56,146.86 L484.09,146.96 L484.65,147.09 L485.24,147.24 L485.83,147.39 L486.42,147.54 L486.99,147.68 L487.52,147.79 L488,147.86 L488.41,147.9 L488.74,147.88 L488.99,147.81 L489.16,147.68 L489.23,147.5 L489.21,147.26 L489.11,146.96 L488.94,146.61 L488.69,146.22 L488.39,145.79 L488.04,145.34 L487.67,144.87 L487.28,144.38 L486.9,143.91 L486.54,143.44 L486.21,143 L485.94,142.59 L485.73,142.23 L485.6,141.91 L485.55,141.64 L485.58,141.43 L485.71,141.28 L485.92,141.19 L486.22,141.15 L486.6,141.16 L487.05,141.22 L487.56,141.31 L488.11,141.44 L488.69,141.58 L489.29,141.74 L489.88,141.89 L490.46,142.03 L491,142.14 L491.49,142.23 L491.92,142.28 L492.28,142.27 L492.55,142.22 L492.74,142.11 L492.84,141.94 L492.85,141.72 L492.78,141.44 L492.62,141.1 L492.39,140.72 L492.1,140.3 L491.77,139.86 L491.4,139.39 L491.02,138.91 L490.63,138.43 L490.26,137.96 L489.93,137.51 L489.64,137.09 L489.41,136.71 L489.25,136.38 L489.18,136.1 L489.19,135.87 L489.29,135.7 L489.48,135.59 L489.75,135.54 L490.11,135.54 L490.54,135.58 L491.03,135.67 L491.57,135.79 L492.15,135.93 L492.74,136.08 L493.34,136.23 L493.92,136.37 L494.47,136.5 L494.98,136.59 L495.43,136.65 L495.81,136.67 L496.11,136.63 L496.32,136.53 L496.45,136.38 L496.48,136.17 L496.43,135.91 L496.3,135.59 L496.09,135.22 L495.82,134.81 L495.49,134.37 L495.13,133.91 L494.75,133.43 L494.37,132.95 L493.99,132.47 L493.64,132.02 L493.34,131.59 L493.09,131.2 L492.92,130.85 L492.82,130.56 L492.8,130.31 L492.87,130.13 L493.04,130 L493.29,129.93 L493.69,129.96 L494.22,130.07 L494.77,130.2 L495.31,130.31 L495.82,130.41 L496.28,130.47 L496.67,130.49 L496.99,130.47 L497.23,130.39 L497.4,130.27 L497.49,130.09 L497.52,129.88 L497.5,129.63 L497.44,129.36 L497.36,129.08" fill="none" stroke="#1ebcf0" stroke-width="1.2" stroke-linejoin="round" stroke-linecap="round"/><path d="M499.8,125.3 L498.98,130.72 L497.74,128.49 L495.2,128.28 Z" fill="#1ebcf0"/>
<path d="M493.08,147.39 L493.24,147.26 L493.48,147.18 L493.8,147.16 L494.2,147.18 L494.67,147.26 L495.19,147.36 L495.76,147.5 L496.35,147.65 L496.94,147.81 L497.53,147.96 L498.1,148.1 L498.63,148.21 L499.11,148.29 L499.52,148.32 L499.85,148.31 L500.11,148.24 L500.27,148.11 L500.35,147.93 L500.34,147.68 L500.24,147.38 L500.07,147.03 L499.83,146.63 L499.53,146.2 L499.19,145.74 L498.82,145.26 L498.45,144.77 L498.07,144.29 L497.72,143.82 L497.4,143.37 L497.13,142.96 L496.93,142.59 L496.8,142.26 L496.75,142 L496.79,141.78 L496.92,141.63 L497.13,141.54 L497.44,141.5 L497.82,141.51 L498.27,141.57 L498.77,141.67 L499.33,141.8 L499.91,141.95 L500.51,142.11 L501.1,142.26 L501.68,142.4 L502.22,142.52 L502.71,142.61 L503.14,142.66 L503.5,142.66 L503.78,142.61 L503.97,142.5 L504.07,142.33 L504.09,142.1 L504.01,141.82 L503.86,141.48 L503.64,141.09 L503.36,140.67 L503.03,140.22 L502.67,139.74 L502.29,139.25 L501.91,138.77 L501.55,138.29 L501.22,137.84 L500.94,137.42 L500.71,137.03 L500.56,136.69 L500.49,136.41 L500.5,136.18 L500.6,136.01 L500.8,135.9 L501.07,135.85 L501.43,135.85 L501.86,135.9 L502.36,135.99 L502.9,136.11 L503.47,136.25 L504.07,136.4 L504.67,136.56 L505.25,136.71 L505.8,136.84 L506.31,136.94 L506.76,137 L507.14,137.01 L507.44,136.97 L507.66,136.88 L507.79,136.73 L507.82,136.51 L507.78,136.25 L507.65,135.92 L507.44,135.55 L507.18,135.14 L506.86,134.69 L506.5,134.22 L506.13,133.74 L505.75,133.25 L505.38,132.77 L505.04,132.31 L504.74,131.88 L504.5,131.48 L504.33,131.13 L504.23,130.83 L504.22,130.58 L504.3,130.4 L504.47,130.27 L504.72,130.2 L505.12,130.23 L505.66,130.35 L506.21,130.47 L506.74,130.59 L507.25,130.69 L507.71,130.75 L508.11,130.78 L508.43,130.75 L508.67,130.68 L508.84,130.55 L508.94,130.38 L508.97,130.16 L508.95,129.91 L508.89,129.64 L508.82,129.36" fill="none" stroke="#1ebcf0" stroke-width="1.2" stroke-linejoin="round" stroke-linecap="round"/><path d="M511.3,125.6 L510.42,131.01 L509.21,128.77 L506.67,128.53 Z" fill="#1ebcf0"/>
<text x="95.1" y="259.1" font-size="16" font-weight="bold" stroke="#000" stroke-width="0.3">C</text>
<line x1="137.0" y1="267.9" x2="137.0" y2="424.8" stroke="#000" stroke-width="2.05"/>
<line x1="136.1" y1="423.8" x2="430" y2="423.8" stroke="#000" stroke-width="2.05"/>
<text x="139.1" y="436.5" font-size="9.5" text-anchor="middle">350</text>
<text x="194.6" y="436.5" font-size="9.5" text-anchor="middle">400</text>
<text x="250.1" y="436.5" font-size="9.5" text-anchor="middle">450</text>
<text x="305.6" y="436.5" font-size="9.5" text-anchor="middle">500</text>
<text x="361.1" y="436.5" font-size="9.5" text-anchor="middle">550</text>
<text x="416.6" y="436.5" font-size="9.5" text-anchor="middle">600</text>
<text x="235.4" y="450.2" font-size="11.2" textLength="84" lengthAdjust="spacingAndGlyphs">Wavelength (nm)</text>
<text transform="translate(128.3,343.7) rotate(-90)" text-anchor="middle" font-size="10.6" textLength="101.2" lengthAdjust="spacingAndGlyphs">Normalized intensity</text>
<text x="232.3" y="279.6" font-size="9.1" text-anchor="middle">Ex (D)</text>
<text x="274.5" y="279.6" font-size="9.1" text-anchor="middle">Em (D)</text>
<text x="305.5" y="279.6" font-size="9.1" text-anchor="middle">Ex (A)</text>
<text x="335.2" y="279.6" font-size="9.1" text-anchor="middle">Em (A)</text>
<polygon points="237,423.8 237,423.21 237.13,423.18 237.25,423.16 237.38,423.14 237.5,423.11 237.63,423.09 237.75,423.06 237.88,423.04 238.01,423.01 238.13,422.99 238.26,422.96 238.38,422.94 238.51,422.91 238.63,422.89 238.76,422.86 238.89,422.84 239.01,422.81 239.14,422.78 239.26,422.76 239.39,422.73 239.51,422.7 239.64,422.68 239.77,422.65 239.89,422.62 240.02,422.6 240.14,422.57 240.27,422.54 240.39,422.51 240.52,422.48 240.65,422.46 240.77,422.43 240.9,422.4 241.02,422.37 241.15,422.34 241.27,422.31 241.4,422.28 241.53,422.25 241.65,422.22 241.78,422.19 241.9,422.16 242.03,422.13 242.15,422.1 242.28,422.06 242.4,422.03 242.53,422 242.66,421.97 242.78,421.93 242.91,421.9 243.03,421.87 243.16,421.83 243.28,421.8 243.41,421.77 243.54,421.73 243.66,421.7 243.79,421.66 243.91,421.62 244.04,421.59 244.16,421.55 244.29,421.52 244.42,421.48 244.54,421.44 244.67,421.4 244.79,421.36 244.92,421.32 245.04,421.28 245.17,421.24 245.3,421.2 245.42,421.16 245.55,421.12 245.67,421.07 245.8,421.03 245.92,420.98 246.05,420.93 246.18,420.88 246.3,420.83 246.43,420.78 246.55,420.73 246.68,420.67 246.8,420.62 246.93,420.56 247.06,420.5 247.18,420.44 247.31,420.38 247.43,420.31 247.56,420.25 247.68,420.18 247.81,420.11 247.94,420.04 248.06,419.96 248.19,419.89 248.31,419.81 248.44,419.73 248.56,419.64 248.69,419.56 248.82,419.47 248.94,419.38 249.07,419.28 249.19,419.18 249.32,419.07 249.44,418.97 249.57,418.85 249.7,418.74 249.82,418.61 249.95,418.49 250.07,418.35 250.2,418.22 250.32,418.07 250.45,417.92 250.58,417.77 250.7,417.61 250.83,417.44 250.95,417.27 251.08,417.08 251.2,416.9 251.33,416.7 251.45,416.5 251.58,416.29 251.71,416.08 251.83,415.86 251.96,415.63 252.08,415.4 252.21,415.16 252.33,414.91 252.46,414.66 252.59,414.4 252.71,414.13 252.84,413.86 252.96,413.58 253.09,413.3 253.21,413.01 253.34,412.71 253.47,412.4 253.59,412.09 253.72,411.77 253.84,411.44 253.97,411.11 254.09,410.76 254.22,410.41 254.35,410.05 254.47,409.68 254.6,409.29 254.72,408.9 254.85,408.49 254.97,408.08 255.1,407.65 255.23,407.22 255.35,406.77 255.48,406.32 255.6,405.84 255.73,405.37 255.85,404.88 255.98,404.38 256.11,403.87 256.23,403.36 256.36,402.83 256.48,402.29 256.61,401.75 256.73,401.2 256.86,400.63 256.99,400.07 257.11,399.49 257.24,399.03 257.36,398.86 257.49,398.69 257.61,398.52 257.74,398.35 257.87,398.18 257.99,398.01 258.12,397.84 258.24,397.67 258.37,397.49 258.49,397.32 258.62,397.14 258.75,396.97 258.87,396.79 259,396.61 259.12,396.43 259.25,396.25 259.37,396.07 259.5,395.89 259.63,395.71 259.75,395.52 259.88,395.34 260,395.15 260.13,394.97 260.25,394.78 260.38,394.59 260.51,394.4 260.63,394.21 260.76,394.02 260.88,393.83 261.01,393.63 261.13,393.44 261.26,393.24 261.38,393.05 261.51,392.85 261.64,392.65 261.76,392.45 261.89,392.25 262.01,392.05 262.14,391.84 262.26,391.64 262.39,391.43 262.52,391.22 262.64,391.02 262.77,390.81 262.89,390.6 263.02,390.39 263.14,390.17 263.27,389.96 263.4,389.74 263.52,389.53 263.65,389.31 263.77,389.09 263.9,388.87 264.02,388.65 264.15,388.43 264.28,388.2 264.4,387.98 264.53,387.75 264.65,387.52 264.78,387.29 264.9,387.06 265.03,386.83 265.16,386.6 265.28,386.37 265.41,386.13 265.53,385.89 265.66,385.65 265.78,385.41 265.91,385.17 266.04,384.93 266.16,384.69 266.29,384.44 266.41,384.19 266.54,383.95 266.66,383.7 266.79,383.45 266.92,383.2 267.04,382.94 267.17,382.69 267.29,382.44 267.42,382.18 267.54,381.92 267.67,381.66 267.8,381.41 267.92,381.15 268.05,380.89 268.17,380.63 268.3,380.36 268.42,380.1 268.55,379.84 268.68,379.57 268.8,379.31 268.93,379.05 269.05,378.78 269.18,378.51 269.3,378.25 269.43,377.98 269.56,377.71 269.68,377.45 269.81,377.18 269.93,376.91 270.06,376.64 270.18,376.37 270.31,376.11 270.43,375.84 270.56,375.57 270.69,375.3 270.81,375.03 270.94,374.76 271.06,374.49 271.19,374.23 271.31,373.96 271.44,373.69 271.57,373.42 271.69,373.15 271.82,372.89 271.94,372.62 272.07,372.35 272.19,372.09 272.32,371.82 272.45,371.56 272.57,371.29 272.7,371.03 272.82,370.77 272.95,370.5 273.07,370.24 273.2,369.98 273.33,369.72 273.45,369.46 273.58,369.2 273.7,368.95 273.83,368.69 273.95,368.43 274.08,368.18 274.21,367.93 274.33,367.67 274.46,367.42 274.58,367.17 274.71,366.92 274.83,366.68 274.96,366.43 275.09,366.19 275.21,365.94 275.34,365.7 275.46,365.46 275.59,365.22 275.71,364.99 275.84,364.75 275.97,364.52 276.09,364.28 276.22,364.05 276.34,363.83 276.47,363.6 276.59,363.37 276.72,363.15 276.85,362.93 276.97,362.71 277.1,362.5 277.22,362.28 277.35,362.07 277.47,361.86 277.6,361.65 277.73,361.44 277.85,361.24 277.98,361.04 278.1,360.84 278.23,360.64 278.35,360.45 278.48,360.26 278.61,360.07 278.73,359.88 278.86,359.69 278.98,359.51 279.11,359.33 279.23,359.15 279.36,358.97 279.48,358.8 279.61,358.62 279.74,358.45 279.86,358.28 279.99,358.12 280.11,357.95 280.24,357.79 280.36,357.62 280.49,357.46 280.62,357.3 280.74,357.15 280.87,356.99 280.99,356.84 281.12,356.68 281.24,356.53 281.37,356.38 281.5,356.23 281.62,356.09 281.75,355.94 281.87,355.79 282,355.65 282.12,355.51 282.25,355.37 282.38,355.23 282.5,355.09 282.63,354.95 282.75,354.81 282.88,354.68 283,354.54 283.13,354.41 283.26,354.27 283.38,354.14 283.51,354.01 283.63,353.88 283.76,353.75 283.88,353.62 284.01,353.49 284.14,353.36 284.26,353.23 284.39,353.11 284.51,352.98 284.64,352.85 284.76,352.72 284.89,352.6 285.02,352.47 285.14,352.34 285.27,352.21 285.39,352.08 285.52,351.95 285.64,351.82 285.77,351.69 285.9,351.56 286.02,351.43 286.15,351.29 286.27,351.16 286.4,351.02 286.52,350.88 286.65,350.74 286.78,350.6 286.9,350.45 287.03,350.31 287.15,350.16 287.28,350.01 287.4,349.86 287.53,349.7 287.66,349.54 287.78,349.38 287.91,349.22 288.03,349.06 288.16,348.89 288.28,348.72 288.41,348.54 288.54,348.36 288.66,348.18 288.79,347.99 288.91,347.8 289.04,347.61 289.16,347.41 289.29,347.21 289.41,347.01 289.54,346.8 289.67,346.59 289.79,346.37 289.92,346.15 290.04,345.92 290.17,345.69 290.29,345.45 290.42,345.21 290.55,344.97 290.67,344.72 290.8,344.46 290.92,344.21 291.05,343.95 291.17,343.68 291.3,343.41 291.43,343.14 291.55,342.86 291.68,342.59 291.8,342.3 291.93,342.02 292.05,341.73 292.18,341.44 292.31,341.15 292.43,340.85 292.56,340.55 292.68,340.25 292.81,339.95 292.93,339.65 293.06,339.34 293.19,339.03 293.31,338.72 293.44,338.41 293.56,338.1 293.69,337.78 293.81,337.47 293.94,337.15 294.07,336.83 294.19,336.52 294.32,336.2 294.44,335.87 294.57,335.55 294.69,335.23 294.82,334.9 294.95,334.58 295.07,334.25 295.2,333.92 295.32,333.59 295.45,333.26 295.57,332.92 295.7,332.59 295.83,332.25 295.95,331.91 296.08,331.57 296.2,331.22 296.33,330.87 296.45,330.52 296.58,330.17 296.71,329.82 296.83,329.46 296.96,329.1 297.08,328.74 297.21,328.37 297.33,328 297.46,327.63 297.59,327.26 297.71,326.88 297.84,326.5 297.96,326.12 298.09,325.73 298.21,325.34 298.34,324.94 298.46,324.54 298.59,324.14 298.72,323.74 298.84,323.33 298.97,322.92 299.09,322.5 299.22,322.08 299.34,321.66 299.47,321.24 299.6,321 299.72,320.89 299.85,320.77 299.97,320.65 300.1,320.53 300.22,320.41 300.35,320.28 300.48,320.15 300.6,320.02 300.73,319.89 300.85,319.76 300.98,319.62 301.1,319.48 301.23,319.35 301.36,319.21 301.48,319.07 301.61,318.93 301.73,318.79 301.86,318.66 301.98,318.52 302.11,318.38 302.24,318.24 302.36,318.11 302.49,317.98 302.61,317.84 302.74,317.71 302.86,317.58 302.99,317.45 303.12,317.32 303.24,317.2 303.37,317.08 303.49,316.95 303.62,316.83 303.74,316.71 303.87,316.6 304,316.48 304.12,316.37 304.25,316.26 304.37,316.15 304.5,316.05 304.62,315.94 304.75,315.84 304.88,315.75 305,315.65 305.13,315.56 305.25,315.47 305.38,315.38 305.5,315.3 305.63,315.22 305.76,315.14 305.88,315.07 306.01,315 306.13,314.93 306.26,314.87 306.38,314.81 306.51,314.75 306.64,314.7 306.76,314.65 306.89,314.6 307.01,314.56 307.14,314.52 307.26,314.48 307.39,314.45 307.52,314.42 307.64,314.39 307.77,314.37 307.89,314.35 308.02,314.33 308.14,314.32 308.27,314.3 308.39,314.3 308.52,314.29 308.65,314.29 308.77,314.29 308.9,314.3 309.02,314.3 309.15,314.31 309.27,314.33 309.4,314.34 309.53,314.36 309.65,314.38 309.78,314.41 309.9,314.44 310.03,314.47 310.15,314.51 310.28,314.55 310.41,314.59 310.53,314.64 310.66,314.69 310.78,314.75 310.91,314.81 311.03,314.87 311.16,314.94 311.29,315.01 311.41,315.09 311.54,315.17 311.66,315.25 311.79,315.34 311.91,315.44 312.04,315.53 312.17,315.64 312.29,315.75 312.42,315.86 312.54,315.98 312.67,316.1 312.79,316.23 312.92,316.37 313.05,316.51 313.17,316.65 313.3,316.8 313.42,316.96 313.55,317.13 313.67,317.3 313.8,317.47 313.93,317.66 314.05,317.84 314.18,318.04 314.3,318.24 314.43,318.46 314.55,318.67 314.68,318.9 314.81,319.13 314.93,319.37 315.06,319.61 315.18,319.87 315.31,320.13 315.43,320.4 315.56,320.68 315.69,320.96 315.81,321.25 315.94,321.54 316.06,321.84 316.19,322.15 316.31,322.46 316.44,322.77 316.57,323.09 316.69,323.42 316.82,323.75 316.94,324.08 317.07,324.42 317.19,324.76 317.32,325.1 317.44,325.44 317.57,325.79 317.7,326.14 317.82,326.5 317.95,326.85 318.07,327.21 318.2,327.57 318.32,327.93 318.45,328.29 318.58,328.65 318.7,329.01 318.83,329.38 318.95,329.74 319.08,330.11 319.2,330.47 319.33,330.84 319.46,331.2 319.58,331.57 319.71,331.94 319.83,332.3 319.96,332.67 320.08,333.04 320.21,333.4 320.34,333.77 320.46,334.13 320.59,334.49 320.71,334.86 320.84,335.22 320.96,335.58 321.09,335.94 321.22,336.3 321.34,336.66 321.47,337.01 321.59,337.37 321.72,337.72 321.84,338.07 321.97,338.42 322.1,338.76 322.22,339.11 322.35,339.45 322.47,340.45 322.6,341.86 322.72,343.26 322.85,344.63 322.98,345.98 323.1,347.31 323.23,348.62 323.35,349.89 323.48,351.15 323.6,352.36 323.73,353.55 323.86,354.7 323.98,355.83 324.11,356.9 324.23,357.96 324.36,358.97 324.48,359.96 324.61,360.91 324.74,361.85 324.86,362.74 324.99,363.62 325.11,364.47 325.24,365.31 325.36,366.11 325.49,366.91 325.62,367.69 325.74,368.46 325.87,369.21 325.99,369.95 326.12,370.68 326.24,371.41 326.37,372.13 326.49,372.84 326.62,373.55 326.75,374.25 326.87,374.94 327,375.63 327.12,376.31 327.25,376.99 327.37,377.67 327.5,378.34 327.63,379.01 327.75,379.68 327.88,380.35 328,381.02 328.13,381.68 328.25,382.35 328.38,383.01 328.51,383.68 328.63,384.34 328.76,384.99 328.88,385.65 329.01,386.3 329.13,386.95 329.26,387.6 329.39,388.24 329.51,388.88 329.64,389.51 329.76,390.14 329.89,390.76 330.01,391.39 330.14,391.99 330.27,392.6 330.39,393.2 330.52,393.79 330.64,394.38 330.77,394.96 330.89,395.52 331.02,396.09 331.15,396.64 331.27,397.18 331.4,397.72 331.52,398.25 331.65,398.76 331.77,399.28 331.9,399.78 332.03,400.27 332.15,400.76 332.28,401.24 332.4,401.7 332.53,402.17 332.65,402.62 332.78,403.07 332.91,403.5 333.03,403.94 333.16,404.36 333.28,404.77 333.41,405.18 333.53,405.58 333.66,405.97 333.79,406.36 333.91,406.73 334.04,407.11 334.16,407.47 334.29,407.82 334.41,408.17 334.54,408.51 334.67,408.85 334.79,409.17 334.92,409.49 335.04,409.81 335.17,410.12 335.29,410.42 335.42,410.71 335.55,411 335.67,411.28 335.8,411.56 335.92,411.83 336.05,412.09 336.17,412.35 336.3,412.6 336.42,412.85 336.55,413.09 336.68,413.33 336.8,413.56 336.93,413.78 337.05,414 337.18,414.22 337.3,414.43 337.43,414.63 337.56,414.83 337.68,415.03 337.81,415.22 337.93,415.4 338.06,415.58 338.18,415.76 338.31,415.93 338.44,416.1 338.56,416.27 338.69,416.43 338.81,416.58 338.94,416.73 339.06,416.88 339.19,417.03 339.32,417.17 339.44,417.31 339.57,417.44 339.69,417.57 339.82,417.7 339.94,417.83 340.07,417.95 340.2,418.07 340.32,418.18 340.45,418.3 340.57,418.41 340.7,418.51 340.82,418.62 340.95,418.72 341.08,418.82 341.2,418.92 341.33,419.02 341.45,419.11 341.58,419.2 341.7,419.29 341.83,419.38 341.96,419.47 342.08,419.55 342.21,419.64 342.33,419.72 342.46,419.8 342.58,419.88 342.71,419.96 342.84,420.03 342.96,420.11 343.09,420.18 343.21,420.25 343.34,420.32 343.46,420.39 343.59,420.46 343.72,420.52 343.84,420.59 343.97,420.65 344.09,420.71 344.22,420.77 344.34,420.83 344.47,420.89 344.6,420.95 344.72,421 344.85,421.06 344.97,421.11 345.1,421.16 345.22,421.21 345.35,421.26 345.47,421.31 345.6,421.36 345.73,421.4 345.85,421.45 345.98,421.49 346.1,421.53 346.23,421.58 346.35,421.62 346.48,421.66 346.61,421.69 346.73,421.73 346.86,421.77 346.98,421.8 347.11,421.84 347.23,421.87 347.36,421.9 347.49,421.93 347.61,421.97 347.74,422 347.86,422.02 347.99,422.05 348.11,422.08 348.24,422.11 348.37,422.13 348.49,422.16 348.62,422.18 348.74,422.2 348.87,422.23 348.99,422.25 349.12,422.27 349.25,422.29 349.37,422.31 349.5,422.33 349.62,422.35 349.75,422.36 349.87,422.38 350,422.4 350,423.8" fill="#fcc07a"/>
<path d="M138,416.4 L138.5,416.29 L139,416.19 L139.5,416.08 L140,415.98 L140.5,415.88 L141,415.78 L141.5,415.69 L142,415.6 L142.5,415.52 L143,415.44 L143.5,415.36 L144,415.29 L144.5,415.22 L145,415.15 L145.5,415.09 L146,415.02 L146.5,414.95 L147,414.88 L147.5,414.81 L148,414.74 L148.5,414.66 L149,414.58 L149.5,414.49 L150,414.4 L150.5,414.3 L151,414.19 L151.5,414.08 L152,413.96 L152.5,413.83 L153,413.69 L153.5,413.53 L154,413.37 L154.5,413.2 L155,413.01 L155.5,412.81 L156,412.6 L156.5,412.37 L157,412.13 L157.5,411.87 L158,411.6 L158.5,411.31 L159,411.01 L159.5,410.69 L160,410.35 L160.5,410.01 L161,409.65 L161.5,409.28 L162,408.9 L162.5,408.52 L163,408.12 L163.5,407.72 L164,407.32 L164.5,406.91 L165,406.49 L165.5,406.08 L166,405.66 L166.5,405.24 L167,404.83 L167.5,404.41 L168,404 L168.5,403.59 L169,403.18 L169.5,402.78 L170,402.38 L170.5,401.97 L171,401.57 L171.5,401.16 L172,400.75 L172.5,400.34 L173,399.92 L173.5,399.49 L174,399.06 L174.5,398.62 L175,398.17 L175.5,397.72 L176,397.25 L176.5,396.77 L177,396.27 L177.5,395.77 L178,395.25 L178.5,394.71 L179,394.16 L179.5,393.59 L180,393 L180.5,392.39 L181,391.77 L181.5,391.12 L182,390.46 L182.5,389.78 L183,389.09 L183.5,388.38 L184,387.65 L184.5,386.91 L185,386.16 L185.5,385.39 L186,384.61 L186.5,383.82 L187,383.02 L187.5,382.21 L188,381.38 L188.5,380.55 L189,379.71 L189.5,378.86 L190,378 L190.5,377.14 L191,376.26 L191.5,375.38 L192,374.49 L192.5,373.59 L193,372.67 L193.5,371.74 L194,370.8 L194.5,369.84 L195,368.87 L195.5,367.87 L196,366.86 L196.5,365.84 L197,364.79 L197.5,363.71 L198,362.62 L198.5,361.5 L199,360.36 L199.5,359.19 L200,358 L200.5,356.78 L201,355.54 L201.5,354.28 L202,353.02 L202.5,351.75 L203,350.49 L203.5,349.23 L204,348 L204.5,346.79 L205,345.6 L205.5,344.43 L206,343.3 L206.5,342.18 L207,341.09 L207.5,340.03 L208,339 L208.5,337.99 L209,337 L209.5,336.03 L210,335.05 L210.5,334.07 L211,333.07 L211.5,332.05 L212,331 L212.5,329.91 L213,328.78 L213.5,327.62 L214,326.43 L214.5,325.2 L215,323.95 L215.5,322.67 L216,321.37 L216.5,320.05 L217,318.72 L217.5,317.36 L218,316 L218.5,314.63 L219,313.24 L219.5,311.86 L220,310.48 L220.5,309.09 L221,307.72 L221.5,306.35 L222,305 L222.5,303.66 L223,302.35 L223.5,301.05 L224,299.78 L224.5,298.54 L225,297.32 L225.5,296.14 L226,295 L226.5,293.9 L227,292.84 L227.5,291.83 L228,290.89 L228.5,290.02 L229,289.22 L229.5,288.5 L230,287.87 L230.5,287.33 L231,286.89 L231.5,286.53 L232,286.26 L232.5,286.09 L233,286 L233.5,286 L234,286.09 L234.5,286.26 L235,286.49 L235.5,286.79 L236,287.15 L236.5,287.55 L237,288 L237.5,288.48 L238,289 L238.5,289.54 L239,290.09 L239.5,290.66 L240,291.24 L240.5,291.82 L241,292.39 L241.5,292.95 L242,293.5 L242.5,294.02 L243,294.52 L243.5,294.99 L244,295.42 L244.5,295.81 L245,296.15 L245.5,296.45 L246,296.69 L246.5,296.88 L247,297 L247.5,297.06 L248,297.06 L248.5,297.01 L249,296.92 L249.5,296.79 L250,296.64 L250.5,296.47 L251,296.3 L251.5,296.13 L252,295.96 L252.5,295.81 L253,295.68 L253.5,295.59 L254,295.54 L254.5,295.54 L255,295.6 L255.5,295.72 L256,295.92 L256.5,296.19 L257,296.54 L257.5,296.97 L258,297.5 L258.5,298.12 L259,298.85 L259.5,299.69 L260,300.66 L260.5,301.76 L261,303 L261.5,304.4 L262,305.99 L262.5,307.81 L263,309.89 L263.5,312.28 L264,315 L264.5,318.08 L265,321.44 L265.5,325 L266,328.68 L266.5,332.37 L267,336 L267.5,339.5 L268,342.88 L268.5,346.18 L269,349.44 L269.5,352.7 L270,356 L270.5,359.37 L271,362.82 L271.5,366.36 L272,370 L272.5,373.73 L273,377.48 L273.5,381.17 L274,384.71 L274.5,388.01 L275,391 L275.5,393.61 L276,395.89 L276.5,397.89 L277,399.7 L277.5,401.38 L278,403 L278.5,404.61 L279,406.2 L279.5,407.75 L280,409.25 L280.5,410.68 L281,412 L281.5,413.21 L282,414.31 L282.5,415.31 L283,416.21 L283.5,417.02 L284,417.75 L284.5,418.41 L285,419 L285.5,419.53 L286,420 L286.5,420.42 L287,420.79 L287.5,421.12 L288,421.4 L288.5,421.65 L289,421.86 L289.5,422.04 L290,422.2 L290.5,422.33 L291,422.45 L291.5,422.55 L292,422.64 L292.5,422.72 L293,422.8" fill="none" stroke="#3141b4" stroke-width="1.45" stroke-linejoin="round"/>
<path d="M236,423.4 L236.5,423.3 L237,423.21 L237.5,423.11 L238,423.01 L238.5,422.91 L239,422.81 L239.5,422.71 L240,422.6 L240.5,422.49 L241,422.37 L241.5,422.26 L242,422.13 L242.5,422.01 L243,421.88 L243.5,421.74 L244,421.6 L244.5,421.45 L245,421.3 L245.5,421.13 L246,420.95 L246.5,420.75 L247,420.53 L247.5,420.28 L248,420 L248.5,419.69 L249,419.33 L249.5,418.92 L250,418.43 L250.5,417.86 L251,417.2 L251.5,416.43 L252,415.56 L252.5,414.58 L253,413.5 L253.5,412.32 L254,411.03 L254.5,409.59 L255,408 L255.5,406.23 L256,404.3 L256.5,402.22 L257,400 L257.5,397.67 L258,395.31 L258.5,393 L259,390.79 L259.5,388.52 L260,386 L260.5,383.07 L261,379.83 L261.5,376.43 L262,373 L262.5,369.67 L263,366.42 L263.5,363.21 L264,360 L264.5,356.75 L265,353.4 L265.5,349.9 L266,346.21 L266.5,342.26 L267,338 L267.5,333.42 L268,328.61 L268.5,323.73 L269,318.91 L269.5,314.28 L270,310 L270.5,306.17 L271,302.78 L271.5,299.8 L272,297.2 L272.5,294.94 L273,293 L273.5,291.34 L274,289.93 L274.5,288.76 L275,287.81 L275.5,287.07 L276,286.5 L276.5,286.1 L277,285.83 L277.5,285.67 L278,285.6 L278.5,285.59 L279,285.66 L279.5,285.82 L280,286.08 L280.5,286.47 L281,287 L281.5,287.68 L282,288.51 L282.5,289.47 L283,290.54 L283.5,291.73 L284,293 L284.5,294.35 L285,295.78 L285.5,297.25 L286,298.77 L286.5,300.32 L287,301.88 L287.5,303.44 L288,305 L288.5,306.53 L289,308.04 L289.5,309.51 L290,310.93 L290.5,312.29 L291,313.6 L291.5,314.84 L292,316 L292.5,317.08 L293,318.06 L293.5,318.96 L294,319.75 L294.5,320.43 L295,321 L295.5,321.45 L296,321.79 L296.5,322.01 L297,322.12 L297.5,322.11 L298,322 L298.5,321.78 L299,321.47 L299.5,321.08 L300,320.63 L300.5,320.13 L301,319.6 L301.5,319.05 L302,318.5 L302.5,317.96 L303,317.44 L303.5,316.94 L304,316.48 L304.5,316.04 L305,315.65 L305.5,315.3 L306,315 L306.5,314.75 L307,314.56 L307.5,314.42 L308,314.33 L308.5,314.29 L309,314.3 L309.5,314.36 L310,314.46 L310.5,314.63 L311,314.85 L311.5,315.14 L312,315.5 L312.5,315.93 L313,316.45 L313.5,317.06 L314,317.76 L314.5,318.58 L315,319.5 L315.5,320.54 L316,321.69 L316.5,322.92 L317,324.23 L317.5,325.6 L318,327 L318.5,328.43 L319,329.88 L319.5,331.33 L320,332.79 L320.5,334.24 L321,335.68 L321.5,337.1 L322,338.5 L322.5,339.86 L323,341.19 L323.5,342.49 L324,343.75 L324.5,344.99 L325,346.19 L325.5,347.36 L326,348.5 L326.5,349.61 L327,350.69 L327.5,351.73 L328,352.74 L328.5,353.7 L329,354.62 L329.5,355.5 L330,356.33 L330.5,357.12 L331,357.87 L331.5,358.58 L332,359.27 L332.5,359.93 L333,360.57 L333.5,361.19 L334,361.8 L334.5,362.4 L335,363 L335.5,363.6 L336,364.2 L336.5,364.8 L337,365.4 L337.5,366.01 L338,366.61 L338.5,367.21 L339,367.81 L339.5,368.4 L340,369 L340.5,369.59 L341,370.18 L341.5,370.77 L342,371.36 L342.5,371.94 L343,372.52 L343.5,373.1 L344,373.67 L344.5,374.23 L345,374.8 L345.5,375.35 L346,375.91 L346.5,376.46 L347,377 L347.5,377.54 L348,378.07 L348.5,378.6 L349,379.12 L349.5,379.63 L350,380.14 L350.5,380.64 L351,381.14 L351.5,381.63 L352,382.12 L352.5,382.6 L353,383.07 L353.5,383.54 L354,384 L354.5,384.45 L355,384.9 L355.5,385.35 L356,385.79 L356.5,386.22 L357,386.66 L357.5,387.09 L358,387.52 L358.5,387.95 L359,388.38 L359.5,388.81 L360,389.24 L360.5,389.68 L361,390.11 L361.5,390.56 L362,391 L362.5,391.45 L363,391.9 L363.5,392.36 L364,392.82 L364.5,393.27 L365,393.73 L365.5,394.19 L366,394.64 L366.5,395.09 L367,395.53 L367.5,395.96 L368,396.39 L368.5,396.81 L369,397.22 L369.5,397.62 L370,398 L370.5,398.37 L371,398.73 L371.5,399.08 L372,399.41 L372.5,399.74 L373,400.06 L373.5,400.36 L374,400.67 L374.5,400.96 L375,401.25 L375.5,401.53 L376,401.81 L376.5,402.09 L377,402.36 L377.5,402.63 L378,402.9 L378.5,403.17 L379,403.45 L379.5,403.72 L380,404 L380.5,404.28 L381,404.57 L381.5,404.85 L382,405.14 L382.5,405.43 L383,405.72 L383.5,406.01 L384,406.3 L384.5,406.59 L385,406.87 L385.5,407.16 L386,407.44 L386.5,407.72 L387,407.99 L387.5,408.26 L388,408.52 L388.5,408.78 L389,409.02 L389.5,409.27 L390,409.5 L390.5,409.73 L391,409.94 L391.5,410.15 L392,410.35 L392.5,410.55 L393,410.74 L393.5,410.92 L394,411.1 L394.5,411.27 L395,411.44 L395.5,411.61 L396,411.77 L396.5,411.93 L397,412.09 L397.5,412.24 L398,412.39 L398.5,412.55 L399,412.7 L399.5,412.85 L400,413 L400.5,413.15 L401,413.31 L401.5,413.46 L402,413.61 L402.5,413.77 L403,413.92 L403.5,414.08 L404,414.23 L404.5,414.39 L405,414.54 L405.5,414.69 L406,414.84 L406.5,414.99 L407,415.14 L407.5,415.29 L408,415.44 L408.5,415.58 L409,415.72 L409.5,415.86 L410,416 L410.5,416.14 L411,416.27 L411.5,416.4 L412,416.53 L412.5,416.65 L413,416.78 L413.5,416.9 L414,417.02 L414.5,417.13 L415,417.25 L415.5,417.36 L416,417.48 L416.5,417.59 L417,417.7 L417.5,417.8 L418,417.91 L418.5,418.02 L419,418.12 L419.5,418.22 L420,418.33 L420.5,418.43 L421,418.53 L421.5,418.63 L422,418.73 L422.5,418.82 L423,418.92 L423.5,419.02 L424,419.12 L424.5,419.21 L425,419.31 L425.5,419.4 L426,419.5" fill="none" stroke="#1aaee8" stroke-width="1.45" stroke-linejoin="round"/>
<path d="M138,422.8 L138.5,422.8 L139,422.79 L139.5,422.79 L140,422.79 L140.5,422.78 L141,422.78 L141.5,422.78 L142,422.78 L142.5,422.77 L143,422.77 L143.5,422.77 L144,422.76 L144.5,422.76 L145,422.76 L145.5,422.75 L146,422.75 L146.5,422.75 L147,422.75 L147.5,422.74 L148,422.74 L148.5,422.74 L149,422.73 L149.5,422.73 L150,422.73 L150.5,422.72 L151,422.72 L151.5,422.72 L152,422.71 L152.5,422.71 L153,422.71 L153.5,422.71 L154,422.7 L154.5,422.7 L155,422.7 L155.5,422.69 L156,422.69 L156.5,422.69 L157,422.68 L157.5,422.68 L158,422.68 L158.5,422.67 L159,422.67 L159.5,422.67 L160,422.66 L160.5,422.66 L161,422.66 L161.5,422.66 L162,422.65 L162.5,422.65 L163,422.65 L163.5,422.64 L164,422.64 L164.5,422.64 L165,422.63 L165.5,422.63 L166,422.63 L166.5,422.62 L167,422.62 L167.5,422.62 L168,422.61 L168.5,422.61 L169,422.61 L169.5,422.6 L170,422.6 L170.5,422.6 L171,422.59 L171.5,422.59 L172,422.59 L172.5,422.58 L173,422.58 L173.5,422.58 L174,422.57 L174.5,422.57 L175,422.56 L175.5,422.56 L176,422.56 L176.5,422.55 L177,422.55 L177.5,422.54 L178,422.54 L178.5,422.53 L179,422.52 L179.5,422.52 L180,422.51 L180.5,422.5 L181,422.5 L181.5,422.49 L182,422.48 L182.5,422.47 L183,422.47 L183.5,422.46 L184,422.45 L184.5,422.44 L185,422.43 L185.5,422.42 L186,422.41 L186.5,422.4 L187,422.38 L187.5,422.37 L188,422.36 L188.5,422.34 L189,422.33 L189.5,422.32 L190,422.3 L190.5,422.28 L191,422.27 L191.5,422.25 L192,422.23 L192.5,422.21 L193,422.19 L193.5,422.17 L194,422.15 L194.5,422.13 L195,422.11 L195.5,422.08 L196,422.05 L196.5,422.03 L197,422 L197.5,421.97 L198,421.94 L198.5,421.91 L199,421.87 L199.5,421.84 L200,421.8 L200.5,421.76 L201,421.72 L201.5,421.68 L202,421.64 L202.5,421.59 L203,421.55 L203.5,421.5 L204,421.45 L204.5,421.4 L205,421.35 L205.5,421.3 L206,421.25 L206.5,421.2 L207,421.14 L207.5,421.09 L208,421.03 L208.5,420.97 L209,420.92 L209.5,420.86 L210,420.8 L210.5,420.74 L211,420.68 L211.5,420.62 L212,420.56 L212.5,420.5 L213,420.44 L213.5,420.37 L214,420.31 L214.5,420.24 L215,420.17 L215.5,420.1 L216,420.03 L216.5,419.96 L217,419.89 L217.5,419.81 L218,419.73 L218.5,419.65 L219,419.57 L219.5,419.49 L220,419.4 L220.5,419.31 L221,419.22 L221.5,419.13 L222,419.03 L222.5,418.93 L223,418.83 L223.5,418.72 L224,418.61 L224.5,418.5 L225,418.38 L225.5,418.26 L226,418.14 L226.5,418.01 L227,417.88 L227.5,417.75 L228,417.61 L228.5,417.46 L229,417.31 L229.5,417.16 L230,417 L230.5,416.84 L231,416.67 L231.5,416.49 L232,416.32 L232.5,416.13 L233,415.95 L233.5,415.76 L234,415.56 L234.5,415.37 L235,415.17 L235.5,414.96 L236,414.75 L236.5,414.54 L237,414.33 L237.5,414.11 L238,413.9 L238.5,413.67 L239,413.45 L239.5,413.23 L240,413 L240.5,412.77 L241,412.54 L241.5,412.31 L242,412.07 L242.5,411.82 L243,411.58 L243.5,411.32 L244,411.06 L244.5,410.78 L245,410.5 L245.5,410.21 L246,409.91 L246.5,409.6 L247,409.27 L247.5,408.93 L248,408.58 L248.5,408.21 L249,407.82 L249.5,407.42 L250,407 L250.5,406.56 L251,406.11 L251.5,405.63 L252,405.14 L252.5,404.63 L253,404.11 L253.5,403.57 L254,403.01 L254.5,402.43 L255,401.84 L255.5,401.24 L256,400.62 L256.5,399.99 L257,399.34 L257.5,398.68 L258,398 L258.5,397.31 L259,396.61 L259.5,395.89 L260,395.16 L260.5,394.41 L261,393.65 L261.5,392.86 L262,392.07 L262.5,391.25 L263,390.42 L263.5,389.57 L264,388.69 L264.5,387.8 L265,386.89 L265.5,385.96 L266,385 L266.5,384.02 L267,383.03 L267.5,382.01 L268,380.98 L268.5,379.94 L269,378.89 L269.5,377.83 L270,376.77 L270.5,375.7 L271,374.63 L271.5,373.56 L272,372.5 L272.5,371.44 L273,370.4 L273.5,369.36 L274,368.34 L274.5,367.34 L275,366.35 L275.5,365.39 L276,364.45 L276.5,363.54 L277,362.66 L277.5,361.81 L278,361 L278.5,360.22 L279,359.48 L279.5,358.78 L280,358.1 L280.5,357.45 L281,356.83 L281.5,356.23 L282,355.65 L282.5,355.09 L283,354.55 L283.5,354.02 L284,353.5 L284.5,352.99 L285,352.48 L285.5,351.97 L286,351.45 L286.5,350.91 L287,350.34 L287.5,349.74 L288,349.1 L288.5,348.41 L289,347.67 L289.5,346.87 L290,346 L290.5,345.06 L291,344.05 L291.5,342.98 L292,341.86 L292.5,340.69 L293,339.49 L293.5,338.26 L294,337 L294.5,335.73 L295,334.44 L295.5,333.12 L296,331.78 L296.5,330.4 L297,328.98 L297.5,327.51 L298,326 L298.5,324.43 L299,322.81 L299.5,321.14 L300,319.41 L300.5,317.63 L301,315.81 L301.5,313.93 L302,312 L302.5,310.03 L303,308.02 L303.5,306 L304,303.98 L304.5,301.97 L305,300 L305.5,298.08 L306,296.23 L306.5,294.47 L307,292.83 L307.5,291.33 L308,290 L308.5,288.85 L309,287.88 L309.5,287.1 L310,286.49 L310.5,286.06 L311,285.79 L311.5,285.7 L312,285.77 L312.5,286.03 L313,286.47 L313.5,287.13 L314,288 L314.5,289.1 L315,290.41 L315.5,291.88 L316,293.5 L316.5,295.21 L317,297 L317.5,298.85 L318,300.88 L318.5,303.22 L319,306 L319.5,309.35 L320,313.34 L320.5,318 L321,323.34 L321.5,329.1 L322,335 L322.5,340.76 L323,346.25 L323.5,351.36 L324,356 L324.5,360.09 L325,363.71 L325.5,366.98 L326,370 L326.5,372.87 L327,375.64 L327.5,378.34 L328,381 L328.5,383.64 L329,386.26 L329.5,388.82 L330,391.31 L330.5,393.71 L331,396 L331.5,398.15 L332,400.17 L332.5,402.07 L333,403.83 L333.5,405.48 L334,407 L334.5,408.41 L335,409.71 L335.5,410.9 L336,411.99 L336.5,413 L337,413.91 L337.5,414.74 L338,415.5 L338.5,416.19 L339,416.81 L339.5,417.37 L340,417.88 L340.5,418.34 L341,418.76 L341.5,419.15 L342,419.5 L342.5,419.83 L343,420.13 L343.5,420.41 L344,420.67 L344.5,420.91 L345,421.12 L345.5,421.32 L346,421.5 L346.5,421.66 L347,421.81 L347.5,421.94 L348,422.05 L348.5,422.16 L349,422.25 L349.5,422.33 L350,422.4 L350.5,422.46 L351,422.51 L351.5,422.56 L352,422.6 L352.5,422.64 L353,422.67 L353.5,422.69 L354,422.72 L354.5,422.74 L355,422.75 L355.5,422.77 L356,422.78 L356.5,422.78 L357,422.79 L357.5,422.79 L358,422.8 L358.5,422.8 L359,422.8 L359.5,422.8 L360,422.8" fill="none" stroke="#1f9a45" stroke-width="1.45" stroke-linejoin="round"/>
<path d="M286,422.6 L286.5,422.59 L287,422.57 L287.5,422.55 L288,422.53 L288.5,422.51 L289,422.48 L289.5,422.44 L290,422.4 L290.5,422.35 L291,422.28 L291.5,422.2 L292,422.1 L292.5,421.96 L293,421.8 L293.5,421.6 L294,421.36 L294.5,421.08 L295,420.76 L295.5,420.4 L296,420 L296.5,419.55 L297,419.07 L297.5,418.57 L298,418.04 L298.5,417.52 L299,417 L299.5,416.49 L300,415.98 L300.5,415.44 L301,414.86 L301.5,414.22 L302,413.5 L302.5,412.68 L303,411.76 L303.5,410.73 L304,409.59 L304.5,408.35 L305,407 L305.5,405.54 L306,403.95 L306.5,402.21 L307,400.32 L307.5,398.26 L308,396 L308.5,393.54 L309,390.87 L309.5,387.98 L310,384.88 L310.5,381.55 L311,378 L311.5,374.22 L312,370.26 L312.5,366.17 L313,362 L313.5,357.79 L314,353.54 L314.5,349.28 L315,345 L315.5,340.71 L316,336.43 L316.5,332.19 L317,328 L317.5,323.88 L318,319.84 L318.5,315.88 L319,312 L319.5,308.21 L320,304.57 L320.5,301.15 L321,298 L321.5,295.19 L322,292.74 L322.5,290.67 L323,289 L323.5,287.74 L324,286.84 L324.5,286.24 L325,285.9 L325.5,285.73 L326,285.7 L326.5,285.75 L327,285.9 L327.5,286.18 L328,286.6 L328.5,287.2 L329,288 L329.5,289.02 L330,290.26 L330.5,291.69 L331,293.3 L331.5,295.08 L332,297 L332.5,299.06 L333,301.24 L333.5,303.54 L334,305.97 L334.5,308.5 L335,311.14 L335.5,313.84 L336,316.58 L336.5,319.31 L337,322 L337.5,324.61 L338,327.16 L338.5,329.65 L339,332.11 L339.5,334.55 L340,337 L340.5,339.46 L341,341.9 L341.5,344.31 L342,346.64 L342.5,348.88 L343,351 L343.5,352.97 L344,354.8 L344.5,356.5 L345,358.09 L345.5,359.59 L346,361 L346.5,362.34 L347,363.61 L347.5,364.82 L348,365.97 L348.5,367.06 L349,368.09 L349.5,369.07 L350,370 L350.5,370.88 L351,371.72 L351.5,372.52 L352,373.27 L352.5,373.98 L353,374.66 L353.5,375.29 L354,375.9 L354.5,376.47 L355,377.01 L355.5,377.52 L356,378 L356.5,378.46 L357,378.89 L357.5,379.31 L358,379.71 L358.5,380.1 L359,380.48 L359.5,380.86 L360,381.23 L360.5,381.61 L361,382 L361.5,382.4 L362,382.8 L362.5,383.22 L363,383.65 L363.5,384.09 L364,384.55 L364.5,385.01 L365,385.5 L365.5,385.99 L366,386.5 L366.5,387.02 L367,387.56 L367.5,388.11 L368,388.66 L368.5,389.22 L369,389.78 L369.5,390.34 L370,390.9 L370.5,391.45 L371,392 L371.5,392.54 L372,393.07 L372.5,393.58 L373,394.1 L373.5,394.6 L374,395.1 L374.5,395.59 L375,396.08 L375.5,396.57 L376,397.05 L376.5,397.52 L377,398 L377.5,398.47 L378,398.95 L378.5,399.42 L379,399.89 L379.5,400.36 L380,400.82 L380.5,401.29 L381,401.75 L381.5,402.22 L382,402.68 L382.5,403.14 L383,403.59 L383.5,404.05 L384,404.5 L384.5,404.95 L385,405.4 L385.5,405.84 L386,406.28 L386.5,406.71 L387,407.14 L387.5,407.56 L388,407.97 L388.5,408.37 L389,408.76 L389.5,409.14 L390,409.5 L390.5,409.85 L391,410.19 L391.5,410.52 L392,410.83 L392.5,411.13 L393,411.43 L393.5,411.71 L394,411.98 L394.5,412.25 L395,412.51 L395.5,412.76 L396,413 L396.5,413.24 L397,413.47 L397.5,413.7 L398,413.92 L398.5,414.13 L399,414.34 L399.5,414.55 L400,414.75 L400.5,414.94 L401,415.13 L401.5,415.32 L402,415.5 L402.5,415.68 L403,415.85 L403.5,416.02 L404,416.18 L404.5,416.34 L405,416.5 L405.5,416.65 L406,416.8 L406.5,416.95 L407,417.09 L407.5,417.23 L408,417.37 L408.5,417.5 L409,417.63 L409.5,417.76 L410,417.88 L410.5,418 L411,418.12 L411.5,418.24 L412,418.35 L412.5,418.47 L413,418.58 L413.5,418.69 L414,418.79 L414.5,418.9 L415,419 L415.5,419.1 L416,419.2 L416.5,419.3 L417,419.4 L417.5,419.49 L418,419.59 L418.5,419.68 L419,419.77 L419.5,419.87 L420,419.96 L420.5,420.05 L421,420.14 L421.5,420.22 L422,420.31 L422.5,420.4 L423,420.49 L423.5,420.57 L424,420.66 L424.5,420.74 L425,420.83 L425.5,420.91 L426,421" fill="none" stroke="#fcd700" stroke-width="1.45" stroke-linejoin="round"/>
<line x1="136.1" y1="423.8" x2="430" y2="423.8" stroke="#000" stroke-width="2.05"/>
</svg>
</body></html>
